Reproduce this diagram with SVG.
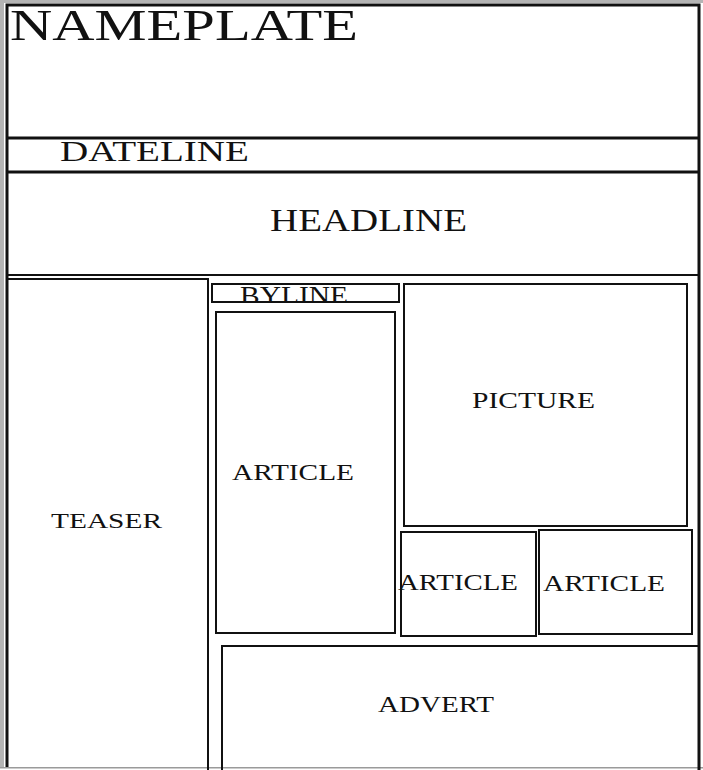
<svg xmlns="http://www.w3.org/2000/svg" width="703" height="770" viewBox="0 0 703 770">
<style>
.box{fill:none;stroke:#111;stroke-width:2}
.thick{fill:none;stroke:#111;stroke-width:3}
.lbl{font-family:"Liberation Serif","Times New Roman",serif;fill:#111}
</style>
<defs>
<clipPath id="bylineClip"><rect x="212" y="284" width="187" height="18"/></clipPath>
</defs>
<rect x="0" y="0" width="703" height="770" fill="#fff"/>
<rect x="0" y="0" width="4" height="768" fill="#b4b4b4"/>
<rect x="0" y="0" width="703" height="3" fill="#b4b4b4"/>
<rect x="0" y="767" width="703" height="1.5" fill="#9a9a9a"/>
<g id="frame">
<path class="thick" d="M7,767 V5 H699 V770" stroke-width="2.5"/>
</g>
<g id="nameplate">
<line class="thick" x1="7" y1="138" x2="699" y2="138"/>
<text class="lbl" x="10" y="39.5" font-size="44" textLength="348" lengthAdjust="spacingAndGlyphs">NAMEPLATE</text>
</g>
<g id="dateline">
<line class="thick" x1="7" y1="172" x2="699" y2="172"/>
<text class="lbl" x="60" y="161" font-size="30" textLength="189" lengthAdjust="spacingAndGlyphs">DATELINE</text>
</g>
<g id="headline">
<line class="box" x1="7" y1="275" x2="699" y2="275"/>
<text class="lbl" x="270" y="231" font-size="31" textLength="197" lengthAdjust="spacingAndGlyphs">HEADLINE</text>
</g>
<g id="teaser">
<path class="box" d="M7,279 H208 V770"/>
<text class="lbl" x="51" y="528" font-size="22" textLength="111" lengthAdjust="spacingAndGlyphs">TEASER</text>
</g>
<g id="byline">
<rect class="box" x="212" y="284" width="187" height="18"/>
<text class="lbl" x="240" y="304" font-size="25" textLength="108" lengthAdjust="spacingAndGlyphs" clip-path="url(#bylineClip)">BYLINE</text>
</g>
<g id="article1">
<rect class="box" x="216" y="312" width="179" height="321" stroke-width="2.5"/>
<text class="lbl" x="232" y="480" font-size="24" textLength="122" lengthAdjust="spacingAndGlyphs">ARTICLE</text>
</g>
<g id="picture">
<rect class="box" x="404" y="284" width="283" height="242"/>
<text class="lbl" x="472" y="408" font-size="23" textLength="123" lengthAdjust="spacingAndGlyphs">PICTURE</text>
</g>
<g id="article2">
<rect class="box" x="401" y="532" width="135" height="104"/>
<text class="lbl" x="398" y="590" font-size="24" textLength="120" lengthAdjust="spacingAndGlyphs">ARTICLE</text>
</g>
<g id="article3">
<rect class="box" x="539" y="530" width="153" height="104" stroke-width="1.5"/>
<text class="lbl" x="543" y="591" font-size="24" textLength="122" lengthAdjust="spacingAndGlyphs">ARTICLE</text>
</g>
<g id="advert">
<path class="box" d="M222,770 V646 H700"/>
<text class="lbl" x="378" y="712" font-size="23" textLength="116" lengthAdjust="spacingAndGlyphs">ADVERT</text>
</g>
<g id="connectors"></g>
</svg>
